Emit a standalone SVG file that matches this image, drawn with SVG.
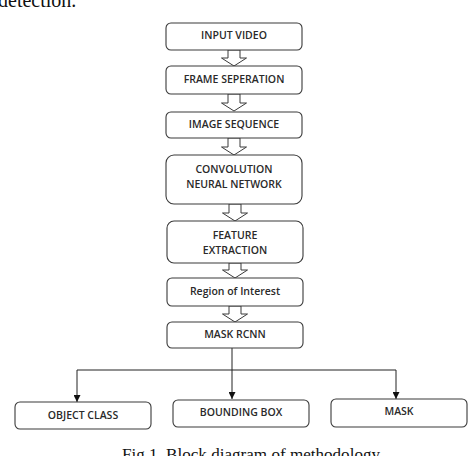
<svg xmlns="http://www.w3.org/2000/svg" width="474" height="456" viewBox="0 0 474 456">
<defs>
<style>
.box{fill:#fff;stroke:#3a3a3a;stroke-width:1.1}
.lbl{font-family:"Open Sans","Liberation Sans",sans-serif;font-size:10.5px;font-weight:600;fill:#2a2a2a;text-anchor:middle}
.blk{fill:#fff;stroke:#3a3a3a;stroke-width:1}
.ln{fill:none;stroke:#222;stroke-width:1}
.serif{font-family:"Liberation Serif","Times New Roman",serif;fill:#111}
</style>
<marker id="ah" viewBox="0 0 10 10" refX="10" refY="5" markerWidth="7" markerHeight="7" orient="auto" markerUnits="userSpaceOnUse">
<path d="M0,0 L10,5 L0,10 Z" fill="#111"/>
</marker>
</defs>
<rect width="474" height="456" fill="#fff"/>
<text class="serif" x="-2" y="7" font-size="20">detection.</text>
<g id="connectors">
<path class="blk" d="M228,50 H240 V58 H246.5 L234,66 L221.5,58 H228 Z"/>
<path class="blk" d="M228,94 H240 V103 H246.5 L234,111 L221.5,103 H228 Z"/>
<path class="blk" d="M228,138 H240 V147 H246.5 L234,155 L221.5,147 H228 Z"/>
<path class="blk" d="M229,204 H241 V213 H247.5 L235,221 L222.5,213 H229 Z"/>
<path class="blk" d="M229,263 H241 V270 H247.5 L235,278 L222.5,270 H229 Z"/>
<path class="blk" d="M229,306 H241 V314 H247.5 L235,322 L222.5,314 H229 Z"/>
<line class="ln" x1="232" y1="348" x2="232" y2="399" marker-end="url(#ah)"/>
<polyline class="ln" points="77,370 396,370 396,399" marker-end="url(#ah)"/>
<line class="ln" x1="77" y1="370" x2="77" y2="402" marker-end="url(#ah)"/>
</g>
<g id="input-video"><rect class="box" x="166" y="23" width="136" height="27" rx="5"/><text class="lbl" x="234" y="39">INPUT VIDEO</text></g>
<g id="frame-seperation"><rect class="box" x="166" y="66" width="136" height="28" rx="5"/><text class="lbl" x="234" y="83">FRAME SEPERATION</text></g>
<g id="image-sequence"><rect class="box" x="166" y="112" width="136" height="26" rx="5"/><text class="lbl" x="234" y="128">IMAGE SEQUENCE</text></g>
<g id="cnn"><rect class="box" x="166" y="155" width="136" height="49" rx="8"/><text class="lbl" x="234" y="173">CONVOLUTION</text><text class="lbl" x="234" y="188">NEURAL NETWORK</text></g>
<g id="feature-extraction"><rect class="box" x="167" y="221" width="136" height="42" rx="7"/><text class="lbl" x="235" y="239">FEATURE</text><text class="lbl" x="235" y="254">EXTRACTION</text></g>
<g id="roi"><rect class="box" x="167" y="278" width="136" height="28" rx="5"/><text class="lbl" x="235" y="295">Region of Interest</text></g>
<g id="mask-rcnn"><rect class="box" x="167" y="322" width="136" height="26" rx="5"/><text class="lbl" x="235" y="338">MASK RCNN</text></g>
<g id="object-class"><rect class="box" x="15" y="402" width="136" height="27" rx="5"/><text class="lbl" x="83" y="419">OBJECT CLASS</text></g>
<g id="bounding-box"><rect class="box" x="173" y="400" width="136" height="27" rx="5"/><text class="lbl" x="241" y="416">BOUNDING BOX</text></g>
<g id="mask"><rect class="box" x="331" y="399" width="136" height="28" rx="5"/><text class="lbl" x="399" y="415">MASK</text></g>
<text class="serif" x="122" y="460" font-size="17" textLength="258" lengthAdjust="spacingAndGlyphs">Fig.1. Block diagram of methodology</text>
</svg>
